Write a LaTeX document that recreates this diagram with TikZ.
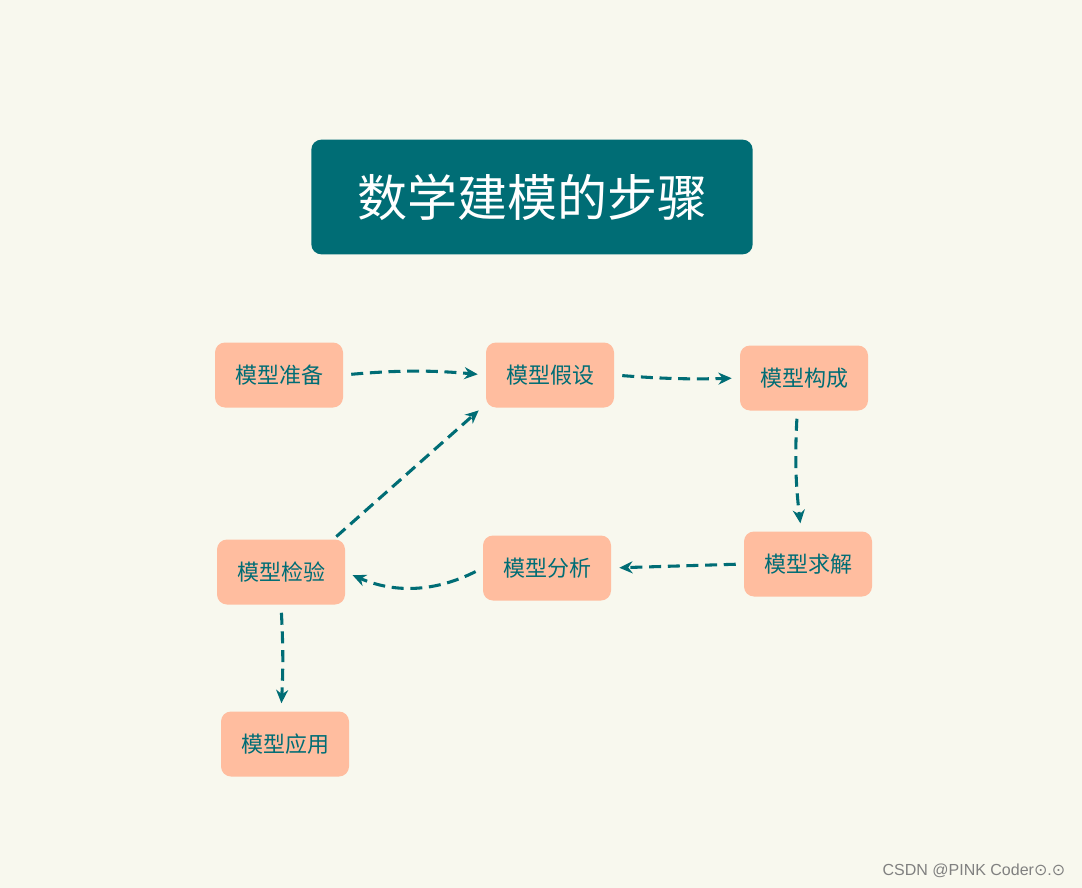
\documentclass[tikz,border=0pt]{standalone}
\usepackage{fontspec}
\setmainfont{Noto Sans CJK SC}
\newfontfamily\wmfont{Liberation Sans}
\newfontfamily\symfont{DejaVu Sans}
\usetikzlibrary{arrows.meta}
\definecolor{bg}{HTML}{F8F8EE}
\definecolor{teal}{HTML}{006D75}
\definecolor{peach}{HTML}{FFBD9F}
\begin{document}
\begin{tikzpicture}[x=0.75pt,y=-0.75pt,
  stepbox/.style={fill=peach,rounded corners=7.5pt,minimum width=96pt,minimum height=48.75pt,text=teal,font=\fontsize{16.5pt}{18pt}\selectfont,inner sep=0pt},
  conn/.style={draw=teal,line width=2.3pt,dash pattern=on 9pt off 5pt,-{Stealth[length=10pt,width=9pt]},shorten <=6pt,shorten >=6pt}]
\fill[bg] (0,0) rectangle (1082,888);
\useasboundingbox (0,0) rectangle (1082,888);
\node[fill=teal,rounded corners=7.5pt,minimum width=331pt,minimum height=86pt,text=white,font=\fontsize{37.5pt}{42pt}\selectfont,inner sep=0pt] (t) at (532,197) {数学建模的步骤};
\node[stepbox] (a) at (279,375) {模型准备};
\node[stepbox] (b) at (550,375) {模型假设};
\node[stepbox] (c) at (804,378) {模型构成};
\node[stepbox] (d) at (808,564) {模型求解};
\node[stepbox] (e) at (547,568) {模型分析};
\node[stepbox] (f) at (281,572) {模型检验};
\node[stepbox] (g) at (285,744) {模型应用};
\draw[conn] (a.east) to[bend left=5] (b.west);
\draw[conn] (b.east) to[bend right=3] (c.west);
\draw[conn] ([xshift=-5pt]c.south) to[bend right=5] ([xshift=-5pt]d.north);
\draw[conn] (d.west) -- (e.east);
\draw[conn] (e.west) to[bend left=25] (f.east);
\draw[conn] ([xshift=37pt,yshift=-2pt]f.north) -- ([xshift=-49pt,yshift=2pt]b.south);
\draw[conn] (f.south) to[bend left=3] ([xshift=-3pt]g.north);
\node[text=gray,font=\fontsize{12pt}{13pt}\selectfont\wmfont,anchor=east] (w) at (1070,871) {CSDN @PINK Coder{\symfont⊙}.{\symfont⊙}};
\end{tikzpicture}
\end{document}
